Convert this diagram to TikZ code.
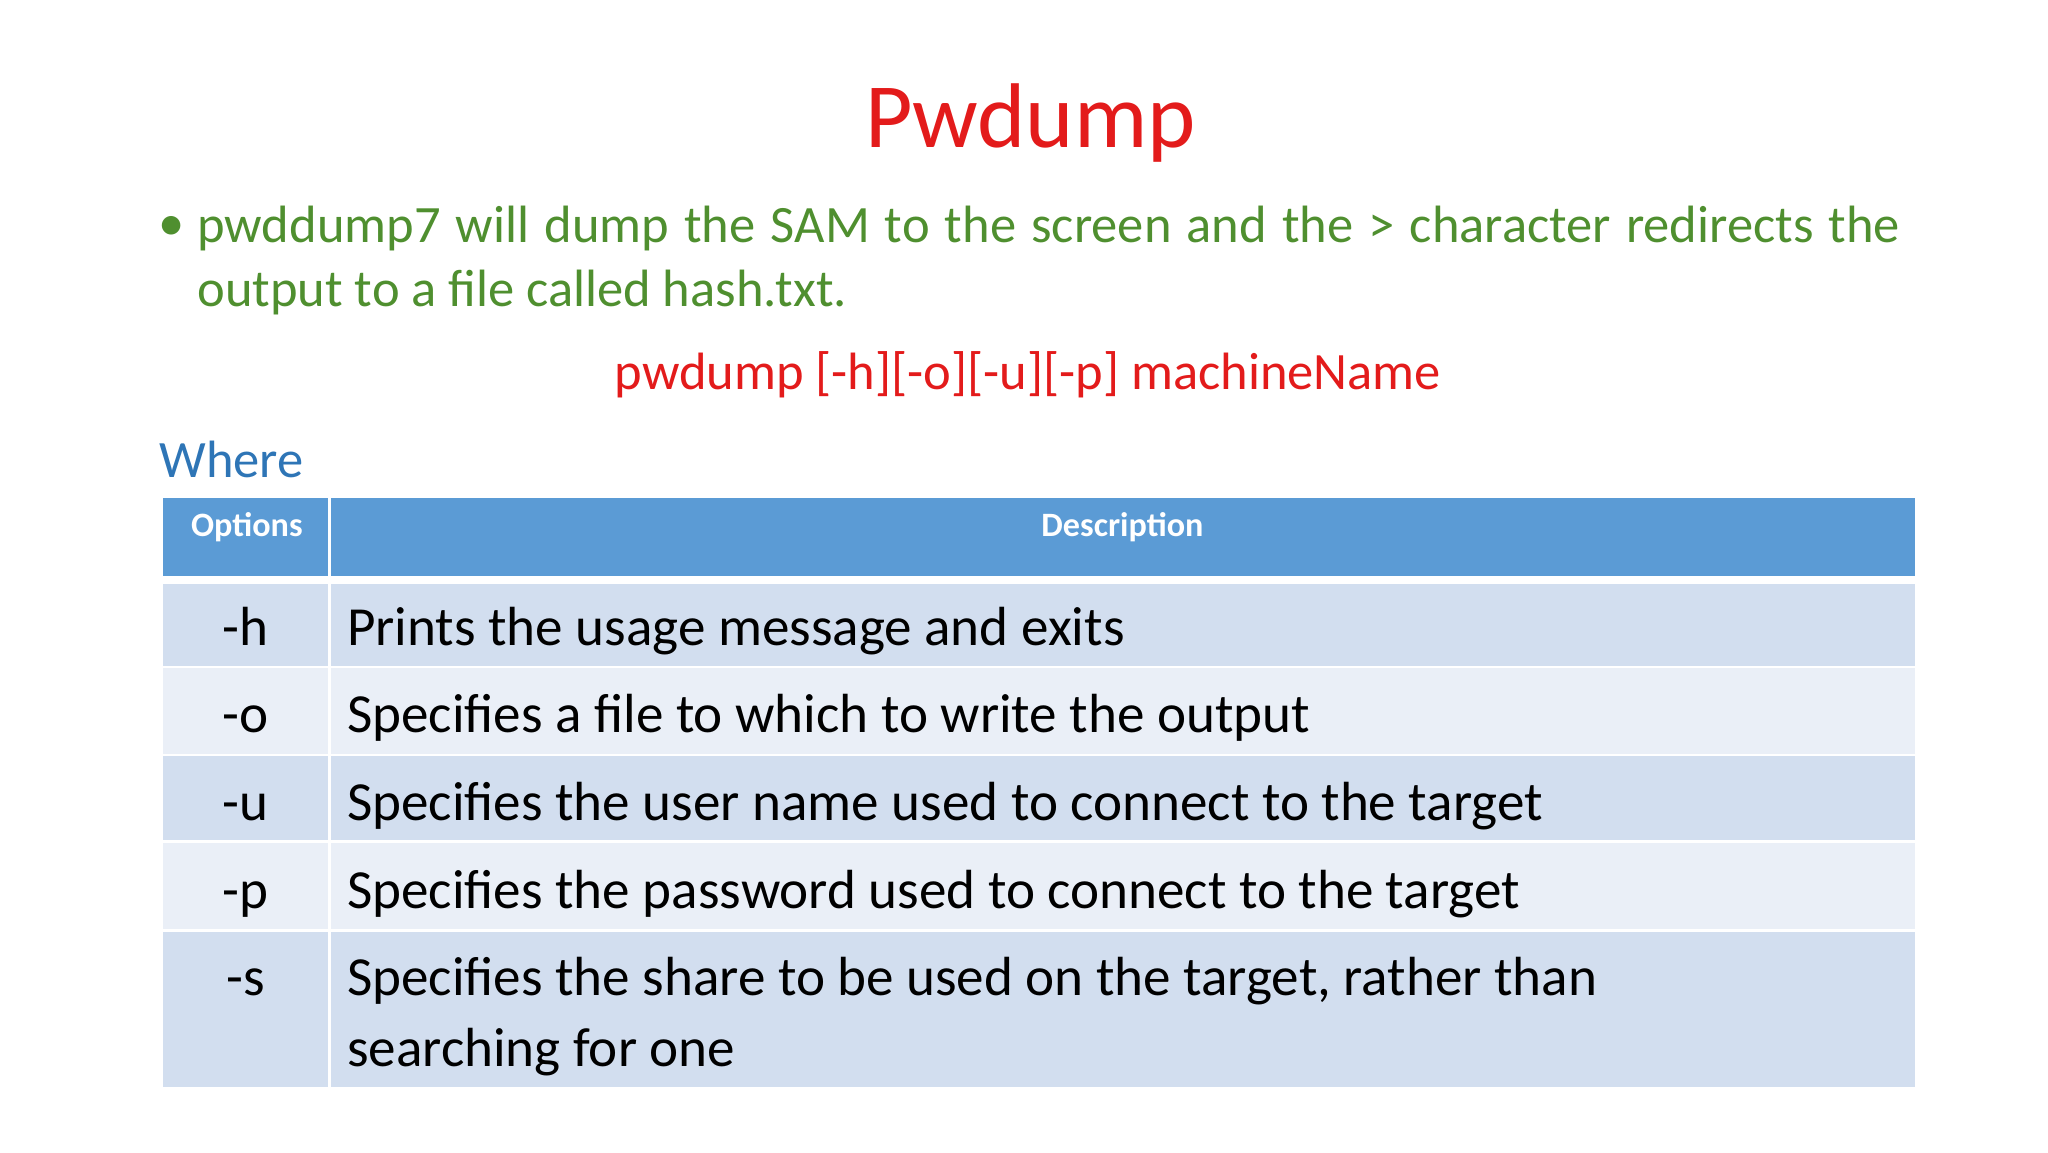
\documentclass[tikz,border=0pt]{standalone}
\usepackage{fontspec}
\setmainfont{Carlito}
\definecolor{ttl}{HTML}{E31B1B}
\definecolor{grn}{HTML}{4F8F2F}
\definecolor{blu}{HTML}{2E75B6}
\definecolor{hdr}{HTML}{5B9BD5}
\definecolor{rowa}{HTML}{D2DEEF}
\definecolor{rowb}{HTML}{EAEFF7}
\begin{document}
\begin{tikzpicture}[x=0.5pt,y=-0.5pt,
  cell/.style={inner sep=0,anchor=base west,font=\fontsize{21}{26}\selectfont},
  opt/.style={inner sep=0,anchor=base,font=\fontsize{21}{26}\selectfont},
  hd/.style={inner sep=0,anchor=base,text=white,font=\fontsize{13}{16}\selectfont\bfseries}]
\useasboundingbox (0,0) rectangle (1560,877.7);
\node[inner sep=0,anchor=base,text=ttl,font=\fontsize{35}{42}\selectfont] (title) at (785,112) {Pwdump};
\node[inner sep=0,anchor=base west,text=grn,font=\fontsize{20}{24.5}\selectfont] (bul) at (120,183) {•};
\node[inner sep=0,anchor=north west,text=grn,text width=648.5pt,align=justify,font=\fontsize{20}{24.5}\selectfont] (txt) at (150,150) {\strut pwddump7 will dump the SAM to the screen and the > character redirects the output to a file called hash.txt.};
\node[inner sep=0,anchor=base,text=ttl,font=\fontsize{20}{24}\selectfont] (cmd) at (783,297) {pwdump [-h][-o][-u][-p] machineName};
\node[inner sep=0,anchor=base west,text=blu,font=\fontsize{20}{24}\selectfont] (where) at (121,364) {Where};
% table
\fill[hdr] (124,379) rectangle (1459,439);
\fill[rowa] (124,445) rectangle (1459,507);
\fill[rowb] (124,509) rectangle (1459,574);
\fill[rowa] (124,576) rectangle (1459,640);
\fill[rowb] (124,642) rectangle (1459,708);
\fill[rowa] (124,710) rectangle (1459,828);
\draw[white,line width=1.5pt] (251,379) -- (251,828);
\node[hd] (h1) at (188,409) {Options};
\node[hd] (h2) at (855,409) {Description};
\node[opt] (o1) at (187,492) {-h};
\node[cell] (d1) at (264,492) {Prints the usage message and exits};
\node[opt] (o2) at (187,558) {-o};
\node[cell] (d2) at (264,558) {Specifies a file to which to write the output};
\node[opt] (o3) at (187,625) {-u};
\node[cell] (d3) at (264,625) {Specifies the user name used to connect to the target};
\node[opt] (o4) at (187,692) {-p};
\node[cell] (d4) at (264,692) {Specifies the password used to connect to the target};
\node[opt] (o5) at (187,758) {-s};
\node[cell] (d5) at (264,758) {Specifies the share to be used on the target, rather than};
\node[cell] (d5b) at (264,812) {searching for one};
\end{tikzpicture}
\end{document}
